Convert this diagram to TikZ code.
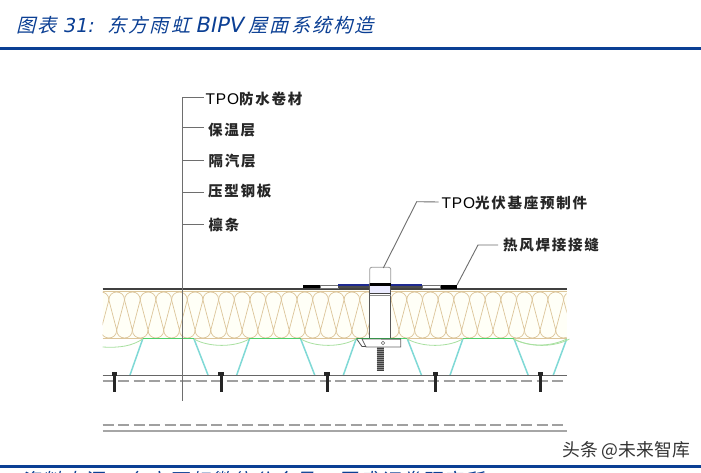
\documentclass[tikz,border=0pt]{standalone}
\usepackage{fontspec}
\setmainfont{Liberation Sans}
\newfontfamily\cjk[LetterSpace=12]{Noto Sans CJK SC}
\newfontfamily\cjkplain{Noto Sans CJK SC}
\newfontfamily\cjkslant[FakeSlant=0.25,LetterSpace=10]{Noto Sans CJK SC}
\newfontfamily\latslant[FakeSlant=0.2]{DejaVu Sans}
\newfontfamily\tpofont[LetterSpace=5]{Liberation Sans}
\definecolor{navy}{HTML}{0B3F94}
\definecolor{leader}{HTML}{6E6E6E}
\definecolor{wool}{HTML}{DCC59A}
\definecolor{web}{HTML}{7FD9D6}
\definecolor{sag}{HTML}{A8E0A0}
\definecolor{topgreen}{HTML}{4FD06A}
\definecolor{dashgrey}{HTML}{A0A0A0}
\definecolor{membrane}{HTML}{1F2A90}
\tikzset{
  lead/.style={draw=leader,line width=0.9pt},
  lbl/.style={anchor=west,inner sep=0pt,font=\cjk\bfseries\fontsize{14.5}{14}\selectfont,text=black!85},
  woolline/.style={draw=wool,line width=0.7pt},
  webline/.style={draw=web,line width=1.5pt},
  sagline/.style={draw=sag,line width=0.8pt},
  dashline/.style={draw=dashgrey,line width=1.2pt,dash pattern=on 11pt off 4.5pt},
  screwbody/.style={draw=black!85,line width=3pt},
  titletext/.style={anchor=west,inner sep=0pt,text=navy}
}
\begin{document}
\begin{tikzpicture}[x=1pt,y=-1pt]
\useasboundingbox (0,0) rectangle (701,473);
\clip (0,0) rectangle (701,473);
\fill[white] (0,0) rectangle (701,473);
% header
\node[titletext] (title) at (16,25) {\fontsize{19.2}{20}\selectfont\cjkslant 图表 {\latslant 31:}\hspace{14pt}东方雨虹\hspace{5pt}{\latslant\fontsize{21}{20}\selectfont BIPV}\hspace{6pt}屋面系统构造};
\fill[navy] (0,47) rectangle (701,49.6);
% insulation
\fill[yellow!3] (102.7,290) rectangle (566.7,338);
\begin{scope}
\clip (102.7,289) rectangle (566.7,339);
\foreach \i in {-1,...,30}{
  \pgfmathsetmacro{\cx}{116.7+15.68*\i}
  \pgfmathsetmacro{\xl}{\cx-7.84}
  \pgfmathsetmacro{\xr}{\cx+7.84}
  \pgfmathsetmacro{\xb}{\cx+15.68}
  \draw[woolline] (\xl,300) .. controls (\xl,289.4) and (\xr,289.4) .. (\xr,300) -- (\cx,330) -- (\xl,300);
  \draw[woolline] (\cx,330) .. controls (\cx,340.6) and (\xb,340.6) .. (\xb,330);
}
\end{scope}
\draw[wool,line width=1pt] (102.7,291.3) -- (566.7,291.3);
\draw[wool,line width=1pt] (102.7,338) -- (566.7,338);
% flutes
\foreach \k in {0,...,3}{
  \pgfmathsetmacro{\ta}{142.7+106.7*\k}
  \pgfmathsetmacro{\tb}{194+106.7*\k}
  \pgfmathsetmacro{\ba}{130+106.7*\k}
  \pgfmathsetmacro{\bb}{208+106.7*\k}
  \draw[webline] (\ba,375) -- (\ta,339);
  \draw[webline] (\tb,339) -- (\bb,375);
  \draw[draw=topgreen,line width=1.5pt] (\ta,338.7) -- (\tb,338.7);
}
\draw[webline] (566.7,339) -- (553.3,375);
\foreach \k in {0,...,3}{
  \pgfmathsetmacro{\sa}{194+106.7*\k}
  \pgfmathsetmacro{\sb}{249.3+106.7*\k}
  \pgfmathsetmacro{\ca}{\sa+15}
  \pgfmathsetmacro{\cb}{\sb-15}
  \draw[sagline] (\sa,339) .. controls (\ca,347.5) and (\cb,347.5) .. (\sb,339);
}
\draw[sagline] (102.7,347) .. controls (120,348) and (132,346) .. (142.7,339);
\draw[sagline] (513,339) .. controls (530,347) and (550,347) .. (566.7,339);
% sheet and dashed lines
\draw[draw=black!60,line width=1pt] (102.7,375.3) -- (566.7,375.3);
\draw[dashline] (102.7,381) -- (566.7,381);
\draw[dashline] (102.7,425) -- (566.7,425);
\draw[draw=black!35,line width=1.4pt] (102.7,431) -- (566.7,431);
% screws
\foreach \sx in {114.3,221,327,435.7,540.7}{
  \draw[screwbody] (\sx,373) -- (\sx,391.5);
  \fill[black!85] (\sx-2.6,372.2) rectangle (\sx+2.6,376);
}
% roof membrane
\draw[draw=black!75,line width=2pt] (102.7,289) -- (566.7,289);
\fill[black] (303.3,285) rectangle (320,288.4);
\fill[black] (440,285) rectangle (456.7,288.6);
\draw[draw=black!55,fill=white,line width=0.4pt] (320,285.4) rectangle (338,288);
\draw[draw=black!55,fill=white,line width=0.4pt] (421.7,285.4) rectangle (440,288);
\fill[membrane] (338,283.6) rectangle (421.7,286.2);
\fill[black!70] (338,286.2) rectangle (421.7,288);
% post
\fill[white] (369.7,283) rectangle (390.7,338);
\draw[draw=black!65,line width=1.3pt] (369.7,283) -- (369.7,338);
\draw[draw=black!65,line width=1.3pt] (390.7,283) -- (390.7,338);
\draw[draw=black!40,fill=white,line width=0.8pt,rounded corners=2pt] (369.7,283.5) -- (369.7,267.3) -- (390.7,267.3) -- (390.7,283.5);
\fill[black] (369.7,283.2) rectangle (390.7,285.8);
\fill[blue!8] (370.4,286) rectangle (390,293);
\draw[draw=black!75,line width=1pt] (369.7,293.4) -- (390.7,293.4);
\draw[draw=black!45,line width=0.8pt] (369.7,295.5) -- (390.7,295.5);
% bracket
\draw[draw=black!60,fill=white,line width=0.7pt] (362,339) -- (366,347) -- (400.7,347) -- (400.7,339.3) -- cycle;
\draw[draw=black!70,line width=0.8pt] (356.7,339) -- (362,346.5) -- (366,346.5);
\draw[draw=black!60,line width=0.5pt] (383,343) circle (1.7);
\draw[draw=topgreen!70!black,line width=1.2pt] (356.7,338.8) -- (400.7,338.8);
% bolt
\fill[black!45] (376.7,347) rectangle (384,371);
\foreach \by in {348.5,350.5,...,370.5}{
  \draw[black!75,line width=0.6pt] (376.7,\by) -- (384,\by);
}
% leaders and labels
\node[lbl] (l1) at (205.5,98.5) {{\tpofont\fontsize{15.5}{14}\selectfont\mdseries\color{black} TPO}防水卷材};
\node[lbl] (l2) at (208,130) {保温层};
\node[lbl] (l3) at (208.5,161) {隔汽层};
\node[lbl] (l4) at (208,191) {压型钢板};
\node[lbl] (l5) at (208.5,225) {檩条};
\coordinate (t0) at (182.7,97);
\coordinate (t1) at (182.7,400.7);
\draw[lead] (t1) -- (t0) -- (204,97);
\foreach \by in {127.7,160,192,224.3}{
  \coordinate (b) at (182.7,\by);
  \draw[lead] (b) -- (204,\by);
}
\node[lbl] (r1) at (441.5,203) {{\tpofont\fontsize{15.5}{14}\selectfont\mdseries\color{black} TPO}光伏基座预制件};
\node[lbl] (r2) at (503,245) {热风焊接接缝};
\coordinate (r1a) at (416.7,201.7);
\coordinate (r1b) at (383.3,268);
\coordinate (r2a) at (478,245);
\coordinate (r2b) at (457,285);
\draw[lead] (r1.west) ++(-3,-1) -- (r1a) -- (r1b);
\draw[lead] (r2.west) ++(-5,0) -- (r2a) -- (r2b);
% watermark and footer
\node[anchor=west,inner sep=0pt,text=black!80] (wm) at (562,451) {\fontsize{17.8}{18}\selectfont\cjkplain 头条 @未来智库};
\fill[navy] (0,465) rectangle (701,468);
\node[titletext] (src) at (20,480) {\fontsize{19.2}{20}\selectfont\cjkslant 资料来源：东方雨虹微信公众号，国盛证券研究所};
\end{tikzpicture}
\end{document}
